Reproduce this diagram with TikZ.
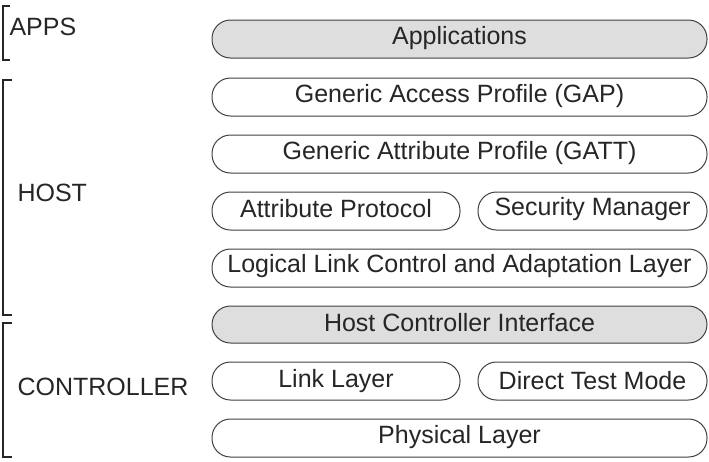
\documentclass[tikz,border=0pt]{standalone}
\usepackage{fontspec}
\setmainfont{Liberation Sans}
\begin{document}
\begin{tikzpicture}[x=1pt,y=-1pt,
  layer/.style={draw=black!75,line width=1pt,rounded corners=18.5pt,fill=white},
  grey/.style={layer,fill=black!13},
  lbl/.style={font=\fontsize{25}{28}\selectfont,text=black!85},
  brk/.style={draw=black!85,line width=1.6pt}]
\useasboundingbox (0,0) rectangle (709,461);
\draw[grey] (212,20) rectangle (707,58); \node[lbl] (app) at (459.5,38) {Applications};
\draw[layer] (212,78) rectangle (707,116); \node[lbl] (gap) at (459.5,96) {Generic Access Profile (GAP)};
\draw[layer] (212,135) rectangle (707,173); \node[lbl] (gatt) at (459.5,153) {Generic Attribute Profile (GATT)};
\draw[layer] (212,192) rectangle (460,230); \node[lbl] (att) at (336,209) {Attribute Protocol};
\draw[layer] (478,192) rectangle (707,230); \node[lbl] (sm) at (592.5,209) {Security Manager};
\draw[layer] (212,249) rectangle (707,287); \node[lbl] (l2) at (459.5,266) {Logical Link Control and Adaptation Layer};
\draw[grey] (212,306) rectangle (707,343); \node[lbl] (hci) at (459.5,323) {Host Controller Interface};
\draw[layer] (212,362) rectangle (460,400); \node[lbl] (ll) at (336,381) {Link Layer};
\draw[layer] (478,362) rectangle (707,400); \node[lbl] (dtm) at (592.5,381) {Direct Test Mode};
\draw[layer] (212,419) rectangle (707,457); \node[lbl] (phy) at (459.5,437) {Physical Layer};
\draw[brk] (10,6) -- (3,6) -- (3,60) -- (10,60);
\draw[brk] (12,80) -- (3,80) -- (3,315) -- (12,315);
\draw[brk] (12,323) -- (3,323) -- (3,457) -- (12,457);
\node[lbl,anchor=west] (apps) at (6,27) {APPS};
\node[lbl,anchor=west] (host) at (14,193) {HOST};
\node[lbl,anchor=west] (ctl) at (14,387) {CONTROLLER};
\end{tikzpicture}
\end{document}
